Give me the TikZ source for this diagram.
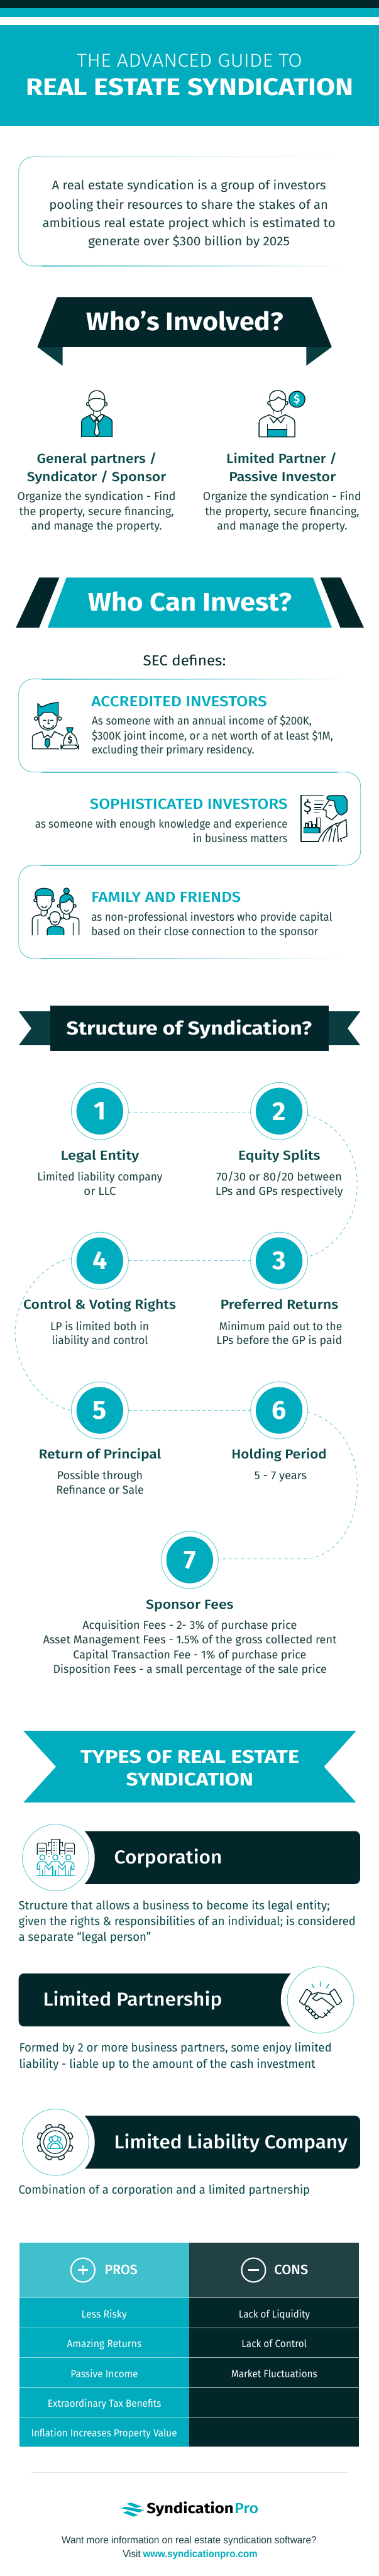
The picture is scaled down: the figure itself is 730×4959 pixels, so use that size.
\documentclass[tikz,border=0pt]{standalone}
\usepackage{fontspec}
\usepackage{graphicx}
\setmainfont{Fira Sans}
\newfontfamily\firamed{Fira Sans Medium}
\newfontfamily\firalight{Fira Sans Light}
\newfontfamily\logofont{Liberation Sans}
\definecolor{tl}{HTML}{00ACBD}
\definecolor{dk}{HTML}{02262A}
\definecolor{fold}{HTML}{0A3D40}
\definecolor{ttlc}{HTML}{0B4A4A}
\definecolor{bodyc}{HTML}{1A3F40}
\definecolor{ln}{HTML}{5BC4CF}
\definecolor{hl}{HTML}{40C0CC}
\definecolor{hd}{HTML}{214144}
\newsavebox\fitbx
\newcommand{\fitto}[2]{\sbox\fitbx{#2}\pgfmathsetmacro\fitratio{#1/\the\wd\fitbx}\scalebox{\fitratio}[1]{\usebox\fitbx}}
\newcounter{tn}
\newcommand{\ttl}[5]{\stepcounter{tn}\pgfmathsetmacro\tx{(#2+#3)/2}\pgfmathsetmacro\tw{#3-#2}\node[txt,#1,anchor=base] (t\arabic{tn}) at (\tx,#4) {\fitto{\tw}{#5}};}
\newcommand{\fz}[1]{\fontsize{#1}{#1}\selectfont}
\tikzset{
 txt/.style={inner sep=0pt,outer sep=0pt},
 hero/.style={text=white,font=\fz{36}\firalight},
 herob/.style={text=white,font=\fz{46}\bfseries},
 ban/.style={text=white,font=\fz{49}\bfseries},
 ban2/.style={text=white,font=\fz{36}\bfseries},
 head/.style={text=ttlc,font=\fz{25}\firamed},
 bod/.style={text=bodyc,font=\fz{22}},
 bod2/.style={text=ttlc,font=\fz{23}},
 intro/.style={text=bodyc,font=\fz{24}},
 tlh/.style={text=tl,font=\fz{28}\firamed},
 barh/.style={text=white,font=\fz{36}\firamed},
 cell/.style={text=white,font=\fz{20}},
 cellh/.style={text=white,font=\fz{26}\firamed},
 ringn/.style={circle,draw=ln,line width=1pt,fill=white,minimum size=110pt,inner sep=0pt,outer sep=0pt},
 stepn/.style={circle,fill=tl,text=white,font=\fz{50}\bfseries,minimum size=90pt,inner sep=0pt},
 dsh/.style={draw=ln,line width=1.3pt,dash pattern=on 6pt off 5pt},
 dshc/.style={draw=ln,line width=1pt,dash pattern=on 6pt off 6pt},
 ic/.style={draw=dk,line width=1.7pt,line join=round,line cap=round},
 ict/.style={draw=tl,line width=1.7pt,line join=round,line cap=round},
 iconring/.style={circle,draw=ln,line width=1pt,fill=white,minimum size=128pt,inner sep=0pt},
 whitering/.style={circle,fill=white,inner sep=0pt},
 signn/.style={circle,draw=white,line width=2.6pt,minimum size=46pt,inner sep=0pt},
}
\newcommand{\fadebox}[3]{% left-open-right box: x from 36, top, bottom
 \draw[ln,line width=1.1pt,rounded corners=28pt] (80,#1) -- (36,#1) -- (36,#2) -- (80,#2);
}
\begin{document}
\begin{tikzpicture}[x=1pt,y=-1pt]
\useasboundingbox[fill=white] (0,0) rectangle (730,4959);
% ---- header
\fill[dk] (0,0) rectangle (730,16);
\fill[tl] (0,16) rectangle (730,33);
\fill[tl] (0,49) rectangle (730,242);
\ttl{hero}{148}{582}{129}{THE ADVANCED GUIDE TO}
\ttl{herob}{50}{681}{184}{REAL ESTATE SYNDICATION}
% ---- intro box
\fadebox{302}{512}{}
\shade[left color=ln,right color=white] (80,301.5) rectangle (670,302.6);
\shade[left color=ln,right color=white] (80,511.5) rectangle (670,512.6);
\ttl{intro}{100}{628}{365}{A real estate syndication is a group of investors}
\ttl{intro}{95}{632}{402}{pooling their resources to share the stakes of an}
\ttl{intro}{82}{646}{437.5}{ambitious real estate project which is estimated to}
\ttl{intro}{170}{558}{473}{generate over \$300 billion by 2025}
% ---- who's involved
\fill[fold] (72,668) -- (120.5,668) -- (120.5,704) -- cycle;
\fill[fold] (639,668) -- (590,668) -- (590,704) -- cycle;
\fill[dk] (110,572) -- (600,572) -- (639,668) -- (72,668) -- cycle;
\ttl{ban}{167}{546}{636.4}{Who’s Involved?}
% general partner icon
\fill[tl] (157,841) -- (157,812) .. controls (157,806) and (164,804) .. (176,798) -- (186.5,806) -- (197,798) .. controls (209,804) and (216,806) .. (216,812) -- (216,841) -- cycle;
\draw[ic] (157,841) -- (157,812) .. controls (157,806) and (164,804) .. (176,798);
\draw[ic] (216,841) -- (216,812) .. controls (216,806) and (209,804) .. (197,798);
\draw[ic] (157,841) -- (216,841);
\draw[ic,fill=white] (186.5,808) -- (183,812) -- (185,816) -- (181.5,834) -- (186.5,840) -- (191.5,834) -- (188,816) -- (190,812) -- cycle;
\draw[ic,fill=white] (176,797) -- (186.5,804) -- (181,812) -- (173,801) -- cycle;
\draw[ic,fill=white] (197,797) -- (186.5,804) -- (192,812) -- (200,801) -- cycle;
\draw[ic] (180,790) -- (180,797) (193,790) -- (193,797);
\draw[ic,fill=white] (170,778) circle (3.5);
\draw[ic,fill=white] (203,778) circle (3.5);
\draw[ic,fill=white] (171,770) .. controls (171,757) and (178,752) .. (186.5,752) .. controls (195,752) and (202,757) .. (202,770) -- (202,778) .. controls (200,786) and (194,792) .. (186.5,792) .. controls (179,792) and (173,786) .. (171,778) -- cycle;
\draw[ic] (172,772) .. controls (176,765) and (192,766) .. (201,770);
% limited partner icon
\fill[tl] (515,827) rectangle (553,840);
\draw[ic] (499,841) -- (499,814) .. controls (499,806) and (506,804) .. (518,799) -- (534,806) -- (550,799) .. controls (562,804) and (568,806) .. (568,814) -- (568,841) -- cycle;
\draw[ic] (515,817) -- (515,841) (553,817) -- (553,841) (515,827) -- (553,827);
\draw[ic,fill=white] (518,798) -- (534,806) -- (527,814) -- (520,804) (550,798) -- (534,806) -- (541,814) -- (548,804);
\draw[ic] (526,790) -- (526,797) (542,790) -- (542,797);
\draw[ic,fill=white] (519,776) circle (3.5);
\draw[ic,fill=white] (551,776) circle (3.5);
\draw[ic,fill=white] (520,770) .. controls (516,757) and (528,751) .. (536,752) .. controls (546,752) and (552,760) .. (550,770) -- (550,778) .. controls (548,786) and (542,792) .. (535,792) .. controls (528,792) and (522,786) .. (520,778) -- cycle;
\draw[ic] (521,771) .. controls (528,772) and (534,768) .. (536,764) .. controls (540,768) and (545,770) .. (549,770);
\node[circle,draw=dk,line width=1.7pt,fill=tl,minimum size=31pt,inner sep=0pt,text=white,font=\fz{21}\bfseries] (dollar) at (572,768.6) {\$};
% who's involved text
\ttl{head}{71}{302}{892}{General partners /}
\ttl{head}{52}{320}{926.4}{Syndicator / Sponsor}
\ttl{head}{436}{649}{892}{Limited Partner /}
\ttl{head}{441}{647}{926.4}{Passive Investor}
\ttl{bod}{33.5}{338.5}{963}{Organize the syndication - Find}
\ttl{bod}{37}{335}{992}{the property, secure financing,}
\ttl{bod}{60.5}{312}{1020}{and manage the property.}
\ttl{bod}{391}{696}{963}{Organize the syndication - Find}
\ttl{bod}{395}{692}{992}{the property, secure financing,}
\ttl{bod}{418}{669}{1020}{and manage the property.}
% ---- who can invest
\fill[dk] (75.4,1112) -- (114,1112) -- (75.4,1208) -- (30.7,1208) -- cycle;
\fill[dk] (617,1112) -- (656.4,1112) -- (700.7,1208) -- (655.5,1208) -- cycle;
\fill[tl] (128,1112) -- (603,1112) -- (639,1208) -- (92,1208) -- cycle;
\ttl{ban}{170}{562}{1176}{Who Can Invest?}
\ttl{text=dk,font=\fz{28}}{275.6}{435}{1281}{SEC defines:}
% boxes
\fadebox{1307}{1486.4}{}
\shade[left color=ln,right color=white] (80,1306.5) rectangle (670,1307.6);
\shade[left color=ln,middle color=ln!55,right color=ln] (80,1485.9) rectangle (650,1487);
\draw[ln,line width=1.1pt,rounded corners=28pt] (650,1486.4) -- (694.6,1486.4) -- (694.6,1665.7) -- (650,1665.7);
\fadebox{1665.7}{1845}{}
\shade[left color=ln,middle color=ln!55,right color=ln] (80,1665.2) rectangle (650,1666.3);
\shade[left color=ln,right color=white] (80,1844.5) rectangle (670,1845.6);
\ttl{tlh}{176}{514.4}{1359.6}{ACCREDITED INVESTORS}
\ttl{bod}{177}{600.5}{1395.4}{As someone with an annual income of \$200K,}
\ttl{bod}{177}{641.5}{1424}{\$300K joint income, or a net worth of at least \$1M,}
\ttl{bod}{177}{490}{1451.4}{excluding their primary residency.}
\ttl{tlh}{173}{554}{1558}{SOPHISTICATED INVESTORS}
\ttl{bod}{67.5}{554}{1593.6}{as someone with enough knowledge and experience}
\ttl{bod}{371.5}{554}{1622}{in business matters}
\ttl{tlh}{176}{464}{1736.7}{FAMILY AND FRIENDS}
\ttl{bod}{176}{640}{1772.7}{as non-professional investors who provide capital}
\ttl{bod}{176}{613}{1800.7}{based on their close connection to the sponsor}
% accredited icon
\begin{scope}[shift={(50,1345)},x=0.3333pt,y=-0.3333pt]
\draw[ic,fill=tl] (68,28) -- (88,48) -- (135,30) -- (187,20) -- (187,100) -- (68,100) -- cycle;
\draw[ic,fill=white] (58,115) circle (10);
\draw[ic,fill=white] (195,115) circle (10);
\draw[ic,fill=white] (75,100) -- (75,135) .. controls (78,165) and (105,182) .. (128,182) .. controls (150,182) and (178,165) .. (180,135) -- (180,100) .. controls (165,95) and (160,85) .. (155,80) -- (100,80) .. controls (95,90) and (88,98) .. (75,100);
\draw[ic] (100,125) -- (116,125) (140,125) -- (156,125) (130,120) -- (127,144) -- (135,144);
\draw[ic] (100,155) .. controls (110,178) and (150,178) .. (160,155);
\draw[ic] (37,290) -- (37,225) .. controls (38,205) and (60,205) .. (92,190) (215,215) .. controls (200,205) and (185,200) .. (165,190) (37,290) -- (190,290);
\draw[ic] (92,190) -- (105,225) -- (125,210) -- (145,225) -- (165,190);
\draw[ic,fill=tl] (115,232) -- (135,232) -- (138,265) -- (125,282) -- (110,265) -- cycle;
\draw[ic,fill=tl] (235,168) -- (272,168) -- (262,197) -- (245,197) -- cycle;
\draw[ic,fill=white] (245,197) .. controls (225,210) and (215,235) .. (218,268) -- (295,268) .. controls (298,235) and (285,210) .. (262,197);
\draw[ic,fill=white,rounded corners=8pt] (203,268) rectangle (305,290);
\node[txt,text=dk,font=\fz{17}\bfseries] (bagd) at (255,240) {\$};
\end{scope}
% sophisticated icon
\begin{scope}[shift={(570,1525)},x=0.3333pt,y=-0.3333pt]
\draw[ic] (160,18) -- (30,18) -- (30,285) -- (130,285);
\node[txt,text=dk,font=\fz{30}] (sopd) at (68,85) {\$};
\draw[ic] (110,50) -- (160,50) (108,70) -- (155,70) (108,88) -- (145,88) (105,102) -- (145,102) (105,120) -- (135,120);
\draw[ic,fill=tl] (47,205) rectangle (135,235);
\draw[ic] (55,205) -- (55,180) -- (70,180) -- (70,205) (75,205) -- (75,170) -- (92,170) -- (92,205) (98,205) -- (98,185) -- (114,185) -- (114,205) (120,205) -- (120,148) -- (140,148) -- (140,235);
\draw[ic,fill=tl,rounded corners=3pt] (175,32) -- (190,20) -- (280,20) -- (296,45) -- (296,110) -- (262,135) -- (240,120) -- (225,80) -- (225,50) -- (185,45) -- cycle;
\draw[ic] (190,50) -- (155,100) -- (175,105) -- (175,140) -- (208,160) -- (240,130);
\draw[ic] (190,75) -- (205,78);
\draw[ic] (290,155) -- (295,255) -- (255,270) -- (265,285);
\draw[ic] (130,283) .. controls (145,240) and (180,205) .. (228,183) -- (258,175) -- (288,160);
\draw[ic] (155,285) .. controls (165,250) and (185,215) .. (212,195) (190,285) -- (208,210) (215,285) -- (228,210) (245,285) -- (240,200) (228,183) -- (240,200) -- (258,175);
\end{scope}
% family icon
\fill[tl] (70,1732) .. controls (62,1715) and (75,1710) .. (85,1710) .. controls (96,1710) and (108,1716) .. (101,1732) -- (96,1724) -- (74,1724) -- cycle;
\draw[ic] (70,1732) .. controls (62,1715) and (75,1710) .. (85,1710) .. controls (96,1710) and (108,1716) .. (101,1732);
\draw[ic,fill=white] (71,1724) -- (71,1737) .. controls (72,1747) and (78,1753) .. (85,1753) .. controls (92,1753) and (99,1747) .. (100,1737) -- (100,1724) -- (71,1724);
\draw[ic] (68,1733) circle (2.8) (102,1733) circle (2.8);
\draw[ic] (80,1744) .. controls (83,1749) and (87,1749) .. (90,1744);
\draw[ic] (62,1800) -- (62,1771) .. controls (62,1763) and (70,1762) .. (79,1761) (73,1770) -- (73,1800) (79,1754) -- (79,1761) .. controls (82,1765) and (88,1765) .. (91,1757) (91,1752) -- (91,1758);
\draw[ic,fill=tl] (128,1715) circle (5.5);
\draw[ic,fill=tl] (115,1742) -- (115,1733) .. controls (115,1726) and (122,1721) .. (128,1721) .. controls (135,1721) and (142,1726) .. (141,1733) -- (141,1742) -- cycle;
\draw[ic,fill=white] (116,1738) .. controls (125,1738) and (130,1736) .. (134,1730) .. controls (136,1734) and (139,1737) .. (141,1738) -- (141,1747) .. controls (140,1754) and (134,1760) .. (128,1760) .. controls (122,1760) and (117,1754) .. (116,1747) -- cycle;
\draw[ic] (113,1744) circle (2.6) (144,1744) circle (2.6);
\draw[ic] (124,1752) .. controls (126,1755) and (130,1755) .. (132,1752);
\draw[ic] (152,1800) -- (152,1772) .. controls (152,1766) and (144,1766) .. (135,1765) (141,1777) -- (141,1800) (122,1760) -- (122,1768) (134,1760) -- (134,1768) .. controls (130,1771) and (125,1770) .. (122,1766);
\draw[ic,fill=tl] (91,1800) -- (91,1790) .. controls (92,1785) and (97,1784) .. (101,1783) -- (111,1783) .. controls (116,1784) and (122,1785) .. (123,1790) -- (123,1800);
\draw[ic,fill=white] (96,1765) .. controls (96,1759) and (100,1755) .. (106,1755) .. controls (112,1755) and (116,1759) .. (116,1765) -- (116,1770) .. controls (115,1777) and (111,1781) .. (106,1781) .. controls (101,1781) and (97,1777) .. (96,1770) -- cycle;
\draw[ic] (94,1768) circle (2) (118,1768) circle (2) (102,1774) .. controls (104,1776) and (108,1776) .. (110,1774);
% ---- structure
\fill[fold] (36.3,1947) -- (97,1947) -- (97,2012) -- (36.3,2012) -- (60.5,1979.6) -- cycle;
\fill[fold] (693.7,1947) -- (633,1947) -- (633,2012) -- (693.7,2012) -- (669.5,1979.6) -- cycle;
\fill[dk] (97,1936) rectangle (633,2023);
\ttl{ban2}{128}{600.6}{1992}{Structure of Syndication?}
% steps
\node[ringn] (r1) at (192.3,2139) {};
\node[ringn] (r2) at (537.7,2139) {};
\node[ringn] (r3) at (537.7,2427) {};
\node[ringn] (r4) at (192.3,2427) {};
\node[ringn] (r5) at (192.3,2715) {};
\node[ringn] (r6) at (537.7,2715) {};
\node[ringn] (r7) at (365.5,3003) {};
\node[stepn] (s1) at (r1) {1};
\node[stepn] (s2) at (r2) {2};
\node[stepn] (s3) at (r3) {3};
\node[stepn] (s4) at (r4) {4};
\node[stepn] (s5) at (r5) {5};
\node[stepn] (s6) at (r6) {6};
\node[stepn] (s7) at (r7) {7};
\path[dsh] (r1.357) -- (r2.183);
\path[dsh] (r4.0) -- (r3.180);
\path[dsh] (r5.0) -- (r6.180);
\path[dshc] (r2.-8) .. controls (640,2158) and (688,2205) .. (688,2280) .. controls (688,2352) and (640,2408) .. (r3.8);
\path[dshc] (r4.175) .. controls (90,2430) and (29,2490) .. (29,2565) .. controls (29,2640) and (85,2706) .. (r5.180);
\path[dshc] (r6.-4) .. controls (640,2728) and (688,2780) .. (688,2860) .. controls (688,2945) and (640,3001) .. (584,3001) -- (r7.2);
\ttl{head}{117}{268}{2233}{Legal Entity}
\ttl{head}{459}{617}{2233}{Equity Splits}
\ttl{bod}{72}{313}{2273}{Limited liability company}
\ttl{bod}{161.5}{223.5}{2301}{or LLC}
\ttl{bod}{416.7}{659}{2273}{70/30 or 80/20 between}
\ttl{bod}{415}{661}{2301}{LPs and GPs respectively}
\ttl{head}{45}{339}{2520.4}{Control \& Voting Rights}
\ttl{head}{424.6}{652}{2520.4}{Preferred Returns}
\ttl{bod}{97}{287}{2560.7}{LP is limited both in}
\ttl{bod}{100}{285}{2588}{liability and control}
\ttl{bod}{422}{659}{2560.7}{Minimum paid out to the}
\ttl{bod}{417}{659}{2588}{LPs before the GP is paid}
\ttl{head}{74.5}{310.5}{2808.6}{Return of Principal}
\ttl{head}{446}{629.4}{2808.6}{Holding Period}
\ttl{bod}{110}{275}{2848}{Possible through}
\ttl{bod}{108.5}{277}{2876.4}{Refinance or Sale}
\ttl{bod}{490}{591}{2848}{5 - 7 years}
\ttl{head}{281}{450}{3097}{Sponsor Fees}
\ttl{bod}{159}{572}{3136.4}{Acquisition Fees - 2- 3\% of purchase price}
\ttl{bod}{83}{648.5}{3164}{Asset Management Fees - 1.5\% of the gross collected rent}
\ttl{bod}{141}{590}{3193}{Capital Transaction Fee - 1\% of purchase price}
\ttl{bod}{102.4}{629.4}{3220.7}{Disposition Fees - a small percentage of the sale price}
% ---- types
\fill[tl] (45,3332) -- (686,3332) -- (624,3401) -- (686,3470) -- (45,3470) -- (108,3401) -- cycle;
\ttl{text=white,font=\fz{35}\bfseries}{155}{576.4}{3393.6}{TYPES OF REAL ESTATE}
\ttl{text=white,font=\fz{35}\bfseries}{243}{488}{3437.5}{SYNDICATION}
% corporation
\fill[dk] (163,3525) {[rounded corners=10pt] -- (693.7,3525) -- (693.7,3627)} -- (163,3627) -- cycle;
\node[whitering,minimum size=151pt] (wc1) at (107,3576) {};
\node[iconring] (ic1) at (107,3576) {};
\ttl{barh}{220}{428}{3588}{Corporation}
\begin{scope}[shift={(60,3530)},x=0.3333pt,y=-0.3333pt]
\draw[ic,line width=1.4pt] (35,120) -- (35,62) -- (42,55) -- (82,55) -- (88,62) -- (88,120) (45,85) -- (80,85) (45,100) -- (80,100);
\draw[ic,line width=1.4pt] (115,120) -- (115,32) -- (165,32) -- (165,120);
\draw[ic,line width=1.4pt] (195,120) -- (195,62) -- (202,55) -- (242,55) -- (250,62) -- (250,120) (205,85) -- (240,85) (205,100) -- (240,100);
\draw[ic,line width=1.4pt] (88,98) -- (115,98) (165,98) -- (195,98) (100,50) -- (115,50) (165,50) -- (180,50) (100,50) -- (100,72) (180,50) -- (180,72);
\foreach \wy in {50,65,80,95,110} {\fill[dk] (130,\wy) rectangle (136,\wy+5); \fill[dk] (146,\wy) rectangle (152,\wy+5);}
\fill[dk] (100,110) rectangle (106,115); \fill[dk] (100,128) rectangle (106,133); \fill[dk] (176,110) rectangle (182,115); \fill[dk] (176,128) rectangle (182,133);
\foreach \cx in {65,140,215} {
 \draw[ict,fill=white,line width=1.5pt] (\cx,137) circle (15);
 \draw[ict,line width=1.5pt] (\cx-15,243) -- (\cx-15,190) (\cx+15,243) -- (\cx+15,190) (\cx,243) -- (\cx,210);
}
\draw[ict,line width=1.5pt] (35,205) -- (35,175) -- (48,162) -- (82,162) -- (100,185) -- (118,162) -- (160,162) -- (178,185) -- (195,162) -- (232,162) -- (248,175) -- (248,205) -- (232,205) -- (232,180);
\draw[ict,line width=1.5pt] (35,205) -- (50,205) -- (50,180) (82,182) -- (103,208) -- (122,185) (158,185) -- (180,208) -- (198,182);
\draw[ict,line width=2pt] (32,243) -- (250,243);
\end{scope}
\ttl{bod2}{36}{635.5}{3676}{Structure that allows a business to become its legal entity;}
\ttl{bod2}{36}{685}{3706}{given the rights \& responsibilities of an individual; is considered}
\ttl{bod2}{36}{291}{3736.6}{a separate “legal person”}
% limited partnership
\fill[dk] (561,3799) {[rounded corners=10pt] -- (36,3799) -- (36,3901)} -- (561,3901) -- cycle;
\node[whitering,minimum size=153pt] (wc2) at (617.5,3850) {};
\node[iconring] (ic2) at (617.5,3850) {};
\ttl{barh}{83}{428}{3861.6}{Limited Partnership}
\draw[ict] (617,3815) -- (617,3824) (601,3820) -- (605,3827) (633,3820) -- (629,3827);
\draw[ic,rounded corners=1.5pt] (576.4,3852.7) -- (590.4,3829) -- (600.4,3835.7) -- (585.7,3860.3) -- cycle;
\draw[ic,rounded corners=1.5pt] (658.6,3852.7) -- (644.6,3829) -- (634.6,3835.7) -- (649.3,3860.3) -- cycle;
\draw[ic] (598,3840) -- (612,3836) -- (625,3838) -- (637,3840);
\draw[ic] (612,3838) -- (602,3847) -- (609,3852) -- (620,3846) -- (644,3864);
\draw[ic] (644,3862) -- (622,3884) -- (615,3882);
\draw[ic] (587,3858) -- (592,3864);
\foreach \k in {0,1,2,3} {
 \draw[ic,rounded corners=2pt] (592+5.5*\k,3860+5.5*\k) -- (598+5.5*\k,3866+5.5*\k) -- (593+5.5*\k,3871+5.5*\k) -- (587+5.5*\k,3865+5.5*\k) -- cycle;
}
\draw[ic] (630,3869) -- (636,3875) (624,3875) -- (630,3881);
\ttl{bod2}{37}{639}{3950.4}{Formed by 2 or more business partners, some enjoy limited}
\ttl{bod2}{37}{607.5}{3981}{liability - liable up to the amount of the cash investment}
% llc
\fill[dk] (163,4073) {[rounded corners=10pt] -- (693.7,4073) -- (693.7,4175)} -- (163,4175) -- cycle;
\node[whitering,minimum size=151pt] (wc3) at (107,4124) {};
\node[iconring] (ic3) at (107,4124) {};
\ttl{barh}{220}{669.5}{4135.7}{Limited Liability Company}
\foreach \a in {0,45,...,315} {
 \begin{scope}[shift={(106.1,4123.7)},rotate=\a+22.5]
 \draw[ic,fill=white,rounded corners=1.5pt] (-7,24) -- (-5,35.5) -- (5,35.5) -- (7,24) -- cycle;
 \end{scope}
}
\node[circle,draw=dk,line width=1.7pt,fill=white,minimum size=58pt,inner sep=0pt] (gear) at (106.1,4123.7) {};
\node[circle,draw=dk,line width=1.4pt,minimum size=44pt,inner sep=0pt] (gearin) at (106.1,4123.7) {};
\draw[ict,fill=white] (92,4136) .. controls (91,4128) and (95,4125) .. (99,4124) (120,4136) .. controls (121,4128) and (117,4125) .. (113,4124) (92,4136) -- (120,4136);
\draw[ict,fill=white] (99,4118) circle (4.5) (113,4118) circle (4.5);
\draw[ict,fill=white] (97,4136) .. controls (97,4129) and (101,4126) .. (106,4126) .. controls (111,4126) and (115,4129) .. (115,4136) -- cycle;
\draw[ict,fill=white] (106,4117) circle (6);
\ttl{bod2}{36}{597}{4224}{Combination of a corporation and a limited partnership}
% ---- table
\fill[hl] (37,4317) rectangle (364,4423.6);
\fill[hd] (365,4317) rectangle (691.5,4423.6);
\fill[tl] (37,4423.6) rectangle (364,4710);
\fill[dk] (365,4423.6) rectangle (691,4710);
\foreach \ry in {4423.6,4481,4538.5,4596,4653,4710} {
 \draw[line width=0.9pt,color=tl!45!white] (37,\ry) -- (364,\ry);
 \draw[line width=0.9pt,color=dk!35!white] (365,\ry) -- (691,\ry);
}
\node[signn] (plus) at (159.7,4370) {};
\draw[white,line width=2.6pt] (150.5,4370) -- (168.9,4370) (159.7,4360.8) -- (159.7,4379.2);
\node[signn] (minus) at (488.4,4370) {};
\draw[white,line width=2.6pt] (478,4370) -- (498.8,4370);
\ttl{cellh}{201.6}{265}{4379}{PROS}
\ttl{cellh}{528.4}{593.6}{4379}{CONS}
\ttl{cell}{157}{244.4}{4461.6}{Less Risky}
\ttl{cell}{129}{273}{4519}{Amazing Returns}
\ttl{cell}{136}{266}{4576.5}{Passive Income}
\ttl{cell}{92}{310.5}{4634}{Extraordinary Tax Benefits}
\ttl{cell}{60}{341}{4691.3}{Inflation Increases Property Value}
\ttl{cell}{460}{597}{4461.6}{Lack of Liquidity}
\ttl{cell}{465.5}{591}{4519}{Lack of Control}
\ttl{cell}{445.5}{611}{4576.5}{Market Fluctuations}
% ---- footer
\draw[color=black!10,line width=0.8pt] (60.5,4760) -- (669.5,4760);
\fill[tl] (244,4820) -- (252,4817.5) -- (272,4825) -- (262,4828) -- cycle;
\fill[tl] (233,4828.5) -- (242,4825.5) -- (277,4832) -- (268,4836.5) -- cycle;
\fill[tl] (237,4837) -- (246,4834) -- (266,4841.5) -- (257,4844.6) -- cycle;
\ttl{text=black,font=\fz{28}\bfseries}{282.6}{450}{4838.7}{Syndication}
\ttl{text=tl,font=\fz{28}\firamed}{451.6}{498}{4838.7}{Pro}
\ttl{text=bodyc,font=\fz{19.5}\logofont}{118.7}{610}{4896.6}{Want more information on real estate syndication software?}
\ttl{text=bodyc,font=\fz{19.5}\logofont}{236.5}{271}{4923}{Visit}
\ttl{text=tl,font=\fz{19.5}\logofont\bfseries}{275.6}{496}{4923}{www.syndicationpro.com}
\end{tikzpicture}
\end{document}
